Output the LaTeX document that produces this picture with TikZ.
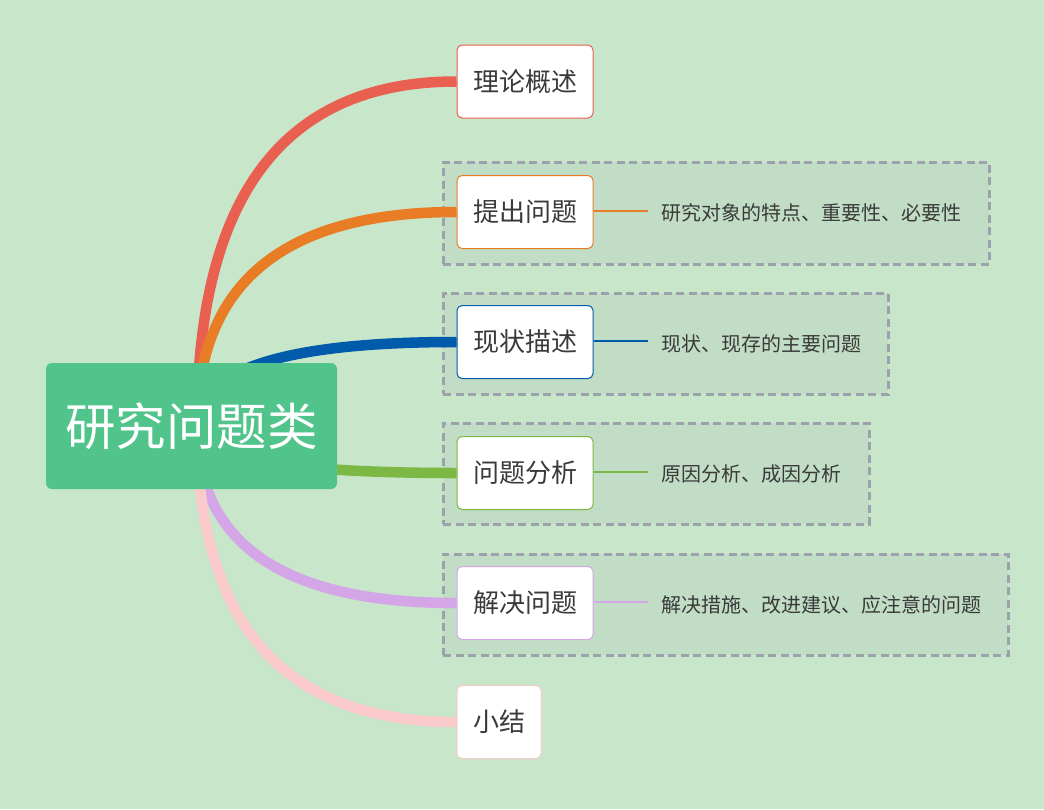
\documentclass[tikz,border=0pt]{standalone}
\usepackage{fontspec}
\setmainfont{Noto Sans CJK SC}
\usetikzlibrary{calc}
\definecolor{bgc}{HTML}{C8E6C9}
\definecolor{grpfill}{HTML}{C1DDC5}
\definecolor{grpline}{HTML}{9CA1AC}
\definecolor{cgreen}{HTML}{51C48B}
\definecolor{bred}{HTML}{E96050}
\definecolor{borange}{HTML}{E87D25}
\definecolor{bblue}{HTML}{005CAB}
\definecolor{bgreen}{HTML}{7CB843}
\definecolor{bpurple}{HTML}{D4A6E8}
\definecolor{bpink}{HTML}{FBCBCB}
\definecolor{txt}{HTML}{3A3A3A}
\pgfdeclarelayer{groups}
\pgfdeclarelayer{branches}
\pgfsetlayers{groups,branches,main}
\newcommand\mmbranch[3]{%
  \draw[branchline,#3] (#1) .. controls ($(#1)!2/3!(#1|-#2)$) and ($(#2)!2/3!(#1|-#2)$) .. (#2);}
\begin{document}
\begin{tikzpicture}[x=1pt,y=-1pt,
  groupbox/.style={draw=grpline,fill=grpfill,dash pattern=on 8pt off 4.5pt,line width=3pt,inner sep=0pt},
  childbox/.style={draw=#1,fill=white,rounded corners=5pt,line width=1pt,minimum width=136pt,minimum height=73pt,inner sep=0pt,text=txt,font=\fontsize{26}{30}\selectfont},
  centralbox/.style={fill=cgreen,rounded corners=6pt,minimum width=291pt,minimum height=126pt,inner sep=0pt,text=white,font=\fontsize{50.5}{60}\selectfont},
  branchline/.style={line width=10.5pt},
  detail/.style={anchor=west,inner xsep=13pt,inner ysep=0pt,text=txt,font=\fontsize{20}{24}\selectfont},
  thinlink/.style={line width=1.1pt}]
\begin{pgfonlayer}{groups}
\fill[bgc] (0,0) rectangle (1044,809);
\node[groupbox,minimum width=546pt,minimum height=102pt] (g1) at (716,213) {};
\node[groupbox,minimum width=445pt,minimum height=101pt] (g2) at (665.5,343.5) {};
\node[groupbox,minimum width=426pt,minimum height=101pt] (g3) at (656,473.5) {};
\node[groupbox,minimum width=565pt,minimum height=101pt] (g4) at (725.5,604.5) {};
\end{pgfonlayer}
\useasboundingbox (0,0) rectangle (1044,809);
\coordinate (s) at (197,426);
\node[centralbox] (c) at (191.5,426) {研究问题类};
\node[childbox=bred] (n1) at (525,81.5) {理论概述};
\node[childbox=borange] (n2) at (525,212) {提出问题};
\node[childbox=bblue] (n3) at (525,342) {现状描述};
\node[childbox=bgreen] (n4) at (525,473) {问题分析};
\node[childbox=bpurple] (n5) at (525,603) {解决问题};
\node[childbox=bpink,minimum width=84pt] (n6) at (499,722) {小结};
\begin{pgfonlayer}{branches}
\mmbranch{s}{n1.west}{bred}
\mmbranch{s}{n2.west}{borange}
\mmbranch{s}{n3.west}{bblue}
\mmbranch{s}{n4.west}{bgreen}
\mmbranch{s}{n5.west}{bpurple}
\mmbranch{s}{n6.west}{bpink}
\end{pgfonlayer}
\node[detail] (d2) at (648,213) {研究对象的特点、重要性、必要性};
\node[detail] (d3) at (648,344) {现状、现存的主要问题};
\node[detail] (d4) at (648,474) {原因分析、成因分析};
\node[detail] (d5) at (648,605) {解决措施、改进建议、应注意的问题};
\draw[thinlink,borange] ($(n2.east)+(0,-1)$) -- ($(n2.east -| d2.west)+(0,-1)$);
\draw[thinlink,bblue] ($(n3.east)+(0,-1)$) -- ($(n3.east -| d3.west)+(0,-1)$);
\draw[thinlink,bgreen] ($(n4.east)+(0,-1)$) -- ($(n4.east -| d4.west)+(0,-1)$);
\draw[thinlink,bpurple] ($(n5.east)+(0,-1)$) -- ($(n5.east -| d5.west)+(0,-1)$);
\end{tikzpicture}
\end{document}
